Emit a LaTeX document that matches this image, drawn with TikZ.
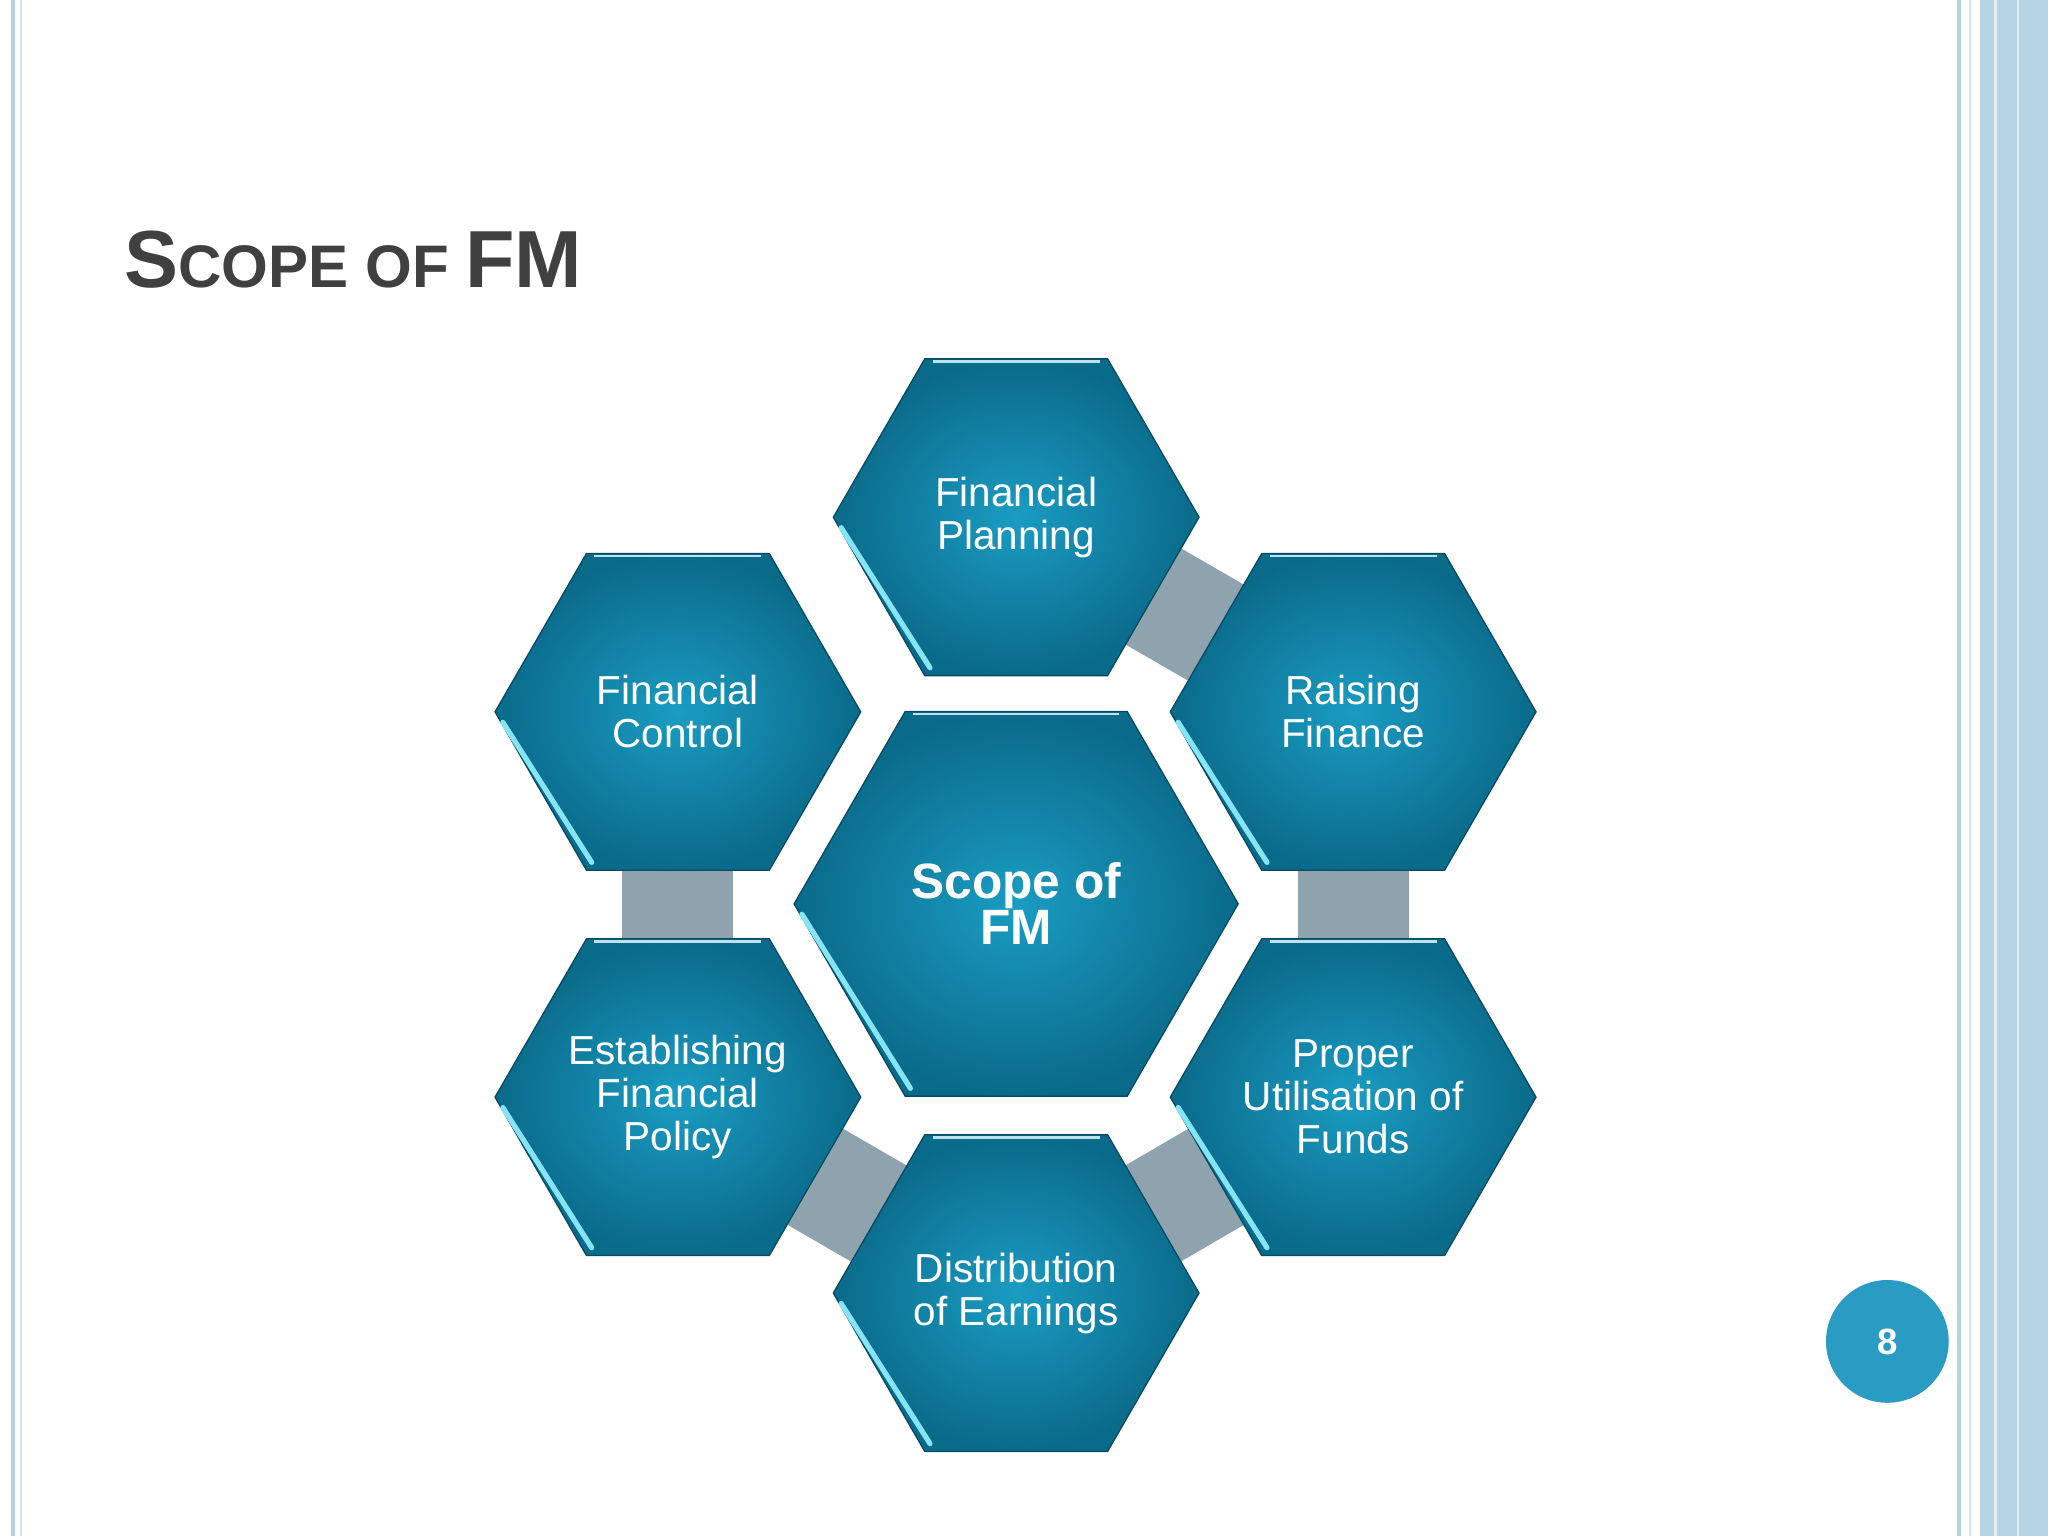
\documentclass[tikz,border=0pt]{standalone}
\usepackage{fontspec}
\setmainfont{Liberation Sans}
\definecolor{hexin}{HTML}{1A9CC2}
\definecolor{hexout}{HTML}{0A6A8A}
\definecolor{hexedge}{HTML}{86E4F7}
\definecolor{band}{HTML}{8FA3AE}
\definecolor{frame}{HTML}{B5D3E3}
\definecolor{titlec}{HTML}{404040}
\definecolor{pagec}{HTML}{2A9BC2}
\newcommand\hexa[5]{% name, x, y, radius, text
  \shade[inner color=hexin,outer color=hexout,draw=hexout!70!black,line width=1pt]
    (#2+#4,#3) -- ++(240:#4) -- ++(180:#4) -- ++(120:#4) -- ++(60:#4) -- ++(0:#4) -- cycle;
  \draw[hexedge,line width=4pt,line cap=round] (#2-#4+6,#3+8) -- (#2-#4/2+4,#3+#4*0.866-6);
  \draw[white!70!hexin,line width=2pt] (#2-#4/2+6,#3-#4*0.866+2) -- (#2+#4/2-6,#3-#4*0.866+2);
  \node[txt] (#1) at (#2,#3) {#5};
}
\begin{document}
\begin{tikzpicture}[x=1pt,y=-1pt,
  txt/.style={text=white,align=center,font=\fontsize{31}{33}\selectfont},
  bandline/.style={band,line width=85pt}]
\useasboundingbox (0,0) rectangle (1568,1176);
\fill[white] (0,0) rectangle (1568,1176);
% frame
\draw[frame,line width=3pt] (10,0) -- (10,1176);
\draw[frame!60,line width=1.5pt] (16,0) -- (16,1176);
\draw[frame,line width=3pt] (1500,0) -- (1500,1176);
\draw[frame!60,line width=1.5pt] (1508,0) -- (1508,1176);
\fill[frame] (1516,0) rectangle (1568,1176);
\draw[white!60!frame,line width=2pt] (1528,0) -- (1528,1176);
\draw[white!60!frame,line width=2pt] (1545,0) -- (1545,1176);
% title
\node[anchor=base west,text=titlec,font=\bfseries,inner sep=0] (title) at (95,220)
  {{\fontsize{62}{62}\selectfont S}{\fontsize{46}{46}\selectfont COPE OF }{\fontsize{62}{62}\selectfont FM}};
% bands
\coordinate (c1) at (778,396); \coordinate (c2) at (1036,545); \coordinate (c3) at (1036,840);
\coordinate (c4) at (778,990); \coordinate (c5) at (519,840); \coordinate (c6) at (519,545);
\draw[bandline] (c1) -- (c2);
\draw[bandline] (c2) -- (c3);
\draw[bandline] (c3) -- (c4);
\draw[bandline] (c4) -- (c5);
\draw[bandline] (c5) -- (c6);
% hexagons
\hexa{fp}{778}{396}{140}{Financial\\Planning}
\hexa{fc}{519}{545}{140}{Financial\\Control}
\hexa{rf}{1036}{545}{140}{Raising\\Finance}
\hexa{ef}{519}{840}{140}{Establishing\\Financial\\Policy}
\hexa{pu}{1036}{840}{140}{Proper\\Utilisation of\\Funds}
\hexa{de}{778}{990}{140}{Distribution\\of Earnings}
\hexa{sc}{778}{692}{170}{\bfseries\fontsize{38}{40}\selectfont Scope of\\\bfseries\fontsize{38}{40}\selectfont FM}
% page number
\node[circle,fill=pagec,minimum size=94pt,text=white,font=\bfseries\fontsize{28}{28}\selectfont] (pg) at (1445,1027) {8};
\end{tikzpicture}
\end{document}
